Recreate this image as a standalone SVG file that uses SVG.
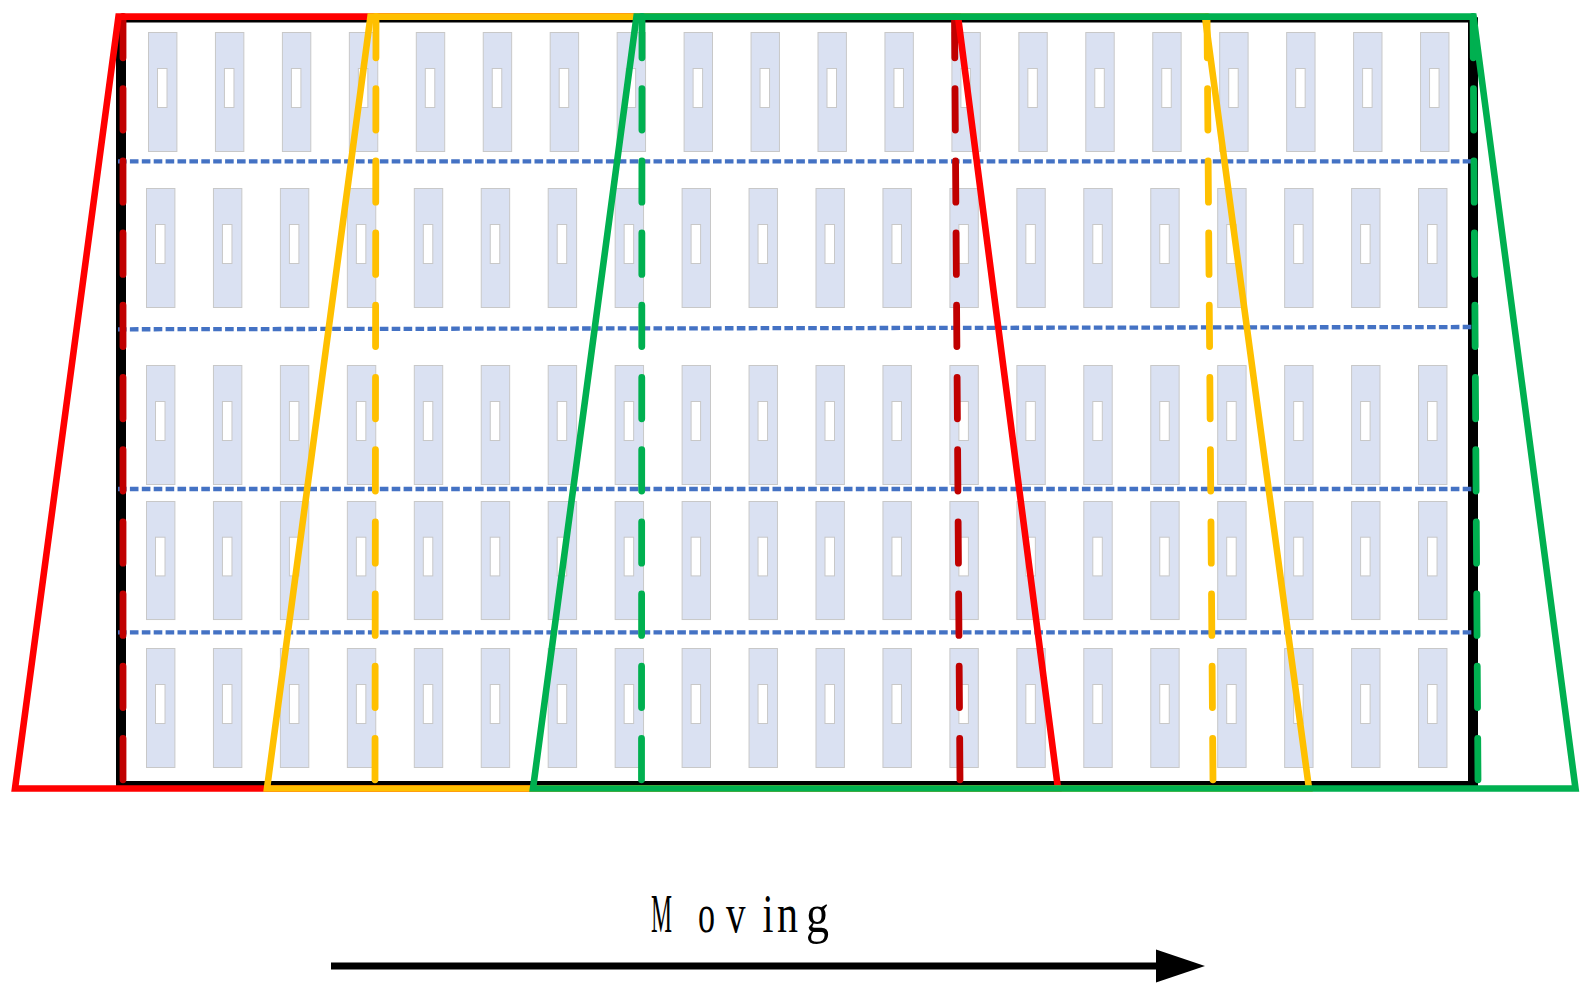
<svg xmlns="http://www.w3.org/2000/svg" xmlns:xlink="http://www.w3.org/1999/xlink" width="1590" height="988" viewBox="0 0 1590 988">
<defs>
<style>
.cellbox{fill:#DAE1F2;stroke:#C8C8C8;stroke-width:1}
.slot{fill:#FFFFFF;stroke:#C8C8C8;stroke-width:1}
.frame{stroke:#000000;fill:none}
.grid{stroke:#4472C4;stroke-width:4.3;stroke-dasharray:8.6 3.3;fill:none}
.zone{fill:none;stroke-width:6.6;stroke-linejoin:miter;stroke-miterlimit:20}
.dash{fill:none;stroke-width:6.8;stroke-linecap:round;stroke-dasharray:41.4 30.8}
.red{stroke:#FF0000}
.dred{stroke:#C00000}
.yel{stroke:#FFC000}
.grn{stroke:#00B050}
.label{font-family:"Liberation Serif","Times New Roman",serif;font-size:54px;fill:#000000}
</style>
<g id="cell">
<rect class="cellbox" x="0" y="0" width="28.4" height="119"/>
<rect class="slot" x="9" y="36" width="9.5" height="39"/>
</g>
<g id="rowcells">
<use xlink:href="#cell" x="0"/>
<use xlink:href="#cell" x="66.95"/>
<use xlink:href="#cell" x="133.9"/>
<use xlink:href="#cell" x="200.85"/>
<use xlink:href="#cell" x="267.8"/>
<use xlink:href="#cell" x="334.75"/>
<use xlink:href="#cell" x="401.7"/>
<use xlink:href="#cell" x="468.65"/>
<use xlink:href="#cell" x="535.6"/>
<use xlink:href="#cell" x="602.55"/>
<use xlink:href="#cell" x="669.5"/>
<use xlink:href="#cell" x="736.45"/>
<use xlink:href="#cell" x="803.4"/>
<use xlink:href="#cell" x="870.35"/>
<use xlink:href="#cell" x="937.3"/>
<use xlink:href="#cell" x="1004.25"/>
<use xlink:href="#cell" x="1071.2"/>
<use xlink:href="#cell" x="1138.15"/>
<use xlink:href="#cell" x="1205.1"/>
<use xlink:href="#cell" x="1272.05"/>
</g>
</defs>
<rect width="1590" height="988" fill="#FFFFFF"/>

<g id="frame">
<line class="frame" x1="116" y1="20" x2="1478" y2="20" stroke-width="5"/>
<line class="frame" x1="116" y1="783.5" x2="1478" y2="783.5" stroke-width="5"/>
<line class="frame" x1="121" y1="17.5" x2="121" y2="786" stroke-width="10"/>
<line class="frame" x1="1473" y1="17.5" x2="1473" y2="786" stroke-width="10"/>
</g>

<g id="cells">
<use xlink:href="#rowcells" transform="translate(148.5,32.5)"/>
<use xlink:href="#rowcells" transform="translate(146.5,188.5)"/>
<use xlink:href="#rowcells" transform="translate(146.5,365.5)"/>
<use xlink:href="#rowcells" transform="translate(146.5,501.5) scale(1,0.992)"/>
<use xlink:href="#rowcells" transform="translate(146.5,648.5)"/>
</g>

<g id="gridlines">
<line class="grid" x1="118" y1="161.3" x2="1474" y2="161.3"/>
<line class="grid" x1="118" y1="329.3" x2="1474" y2="327"/>
<line class="grid" x1="118" y1="489" x2="1474" y2="489"/>
<line class="grid" x1="118" y1="632.3" x2="1474" y2="632.3"/>
</g>

<g id="red-zone">
<line class="dash dred" x1="123" y1="16.4" x2="123" y2="782"/>
<line class="dash dred" x1="954.5" y1="16.4" x2="960" y2="782"/>
<polygon class="zone red" points="15,788.5 118.5,16.6 958,16.6 1058,788.5"/>
</g>

<g id="yellow-zone">
<line class="dash yel" x1="376" y1="16.4" x2="375" y2="782"/>
<line class="dash yel" x1="1207" y1="16.4" x2="1213" y2="782"/>
<polygon class="zone yel" points="267,788.5 370.5,16.6 1205,16.6 1309,788.5"/>
</g>

<g id="green-zone">
<line class="dash grn" x1="642" y1="16.4" x2="641.5" y2="782"/>
<line class="dash grn" x1="1473" y1="16.4" x2="1478" y2="782"/>
<polygon class="zone grn" points="533,788.5 636.5,16.6 1473.5,16.6 1575.5,788.5"/>
</g>

<g id="connectors">
<line x1="331" y1="966" x2="1160" y2="966" stroke="#000000" stroke-width="7"/>
<polygon points="1156,949.5 1205,966 1156,982.5" fill="#000000"/>
</g>

<g id="label-moving">
<text class="label" y="932"><tspan x="651" textLength="21" lengthAdjust="spacingAndGlyphs">M</tspan><tspan x="698" textLength="17" lengthAdjust="spacingAndGlyphs">o</tspan><tspan x="726" textLength="19.5" lengthAdjust="spacingAndGlyphs">v</tspan><tspan x="762.5" textLength="11" lengthAdjust="spacingAndGlyphs">i</tspan><tspan x="777" textLength="21" lengthAdjust="spacingAndGlyphs">n</tspan><tspan x="806" textLength="23" lengthAdjust="spacingAndGlyphs">g</tspan></text>
</g>
</svg>
